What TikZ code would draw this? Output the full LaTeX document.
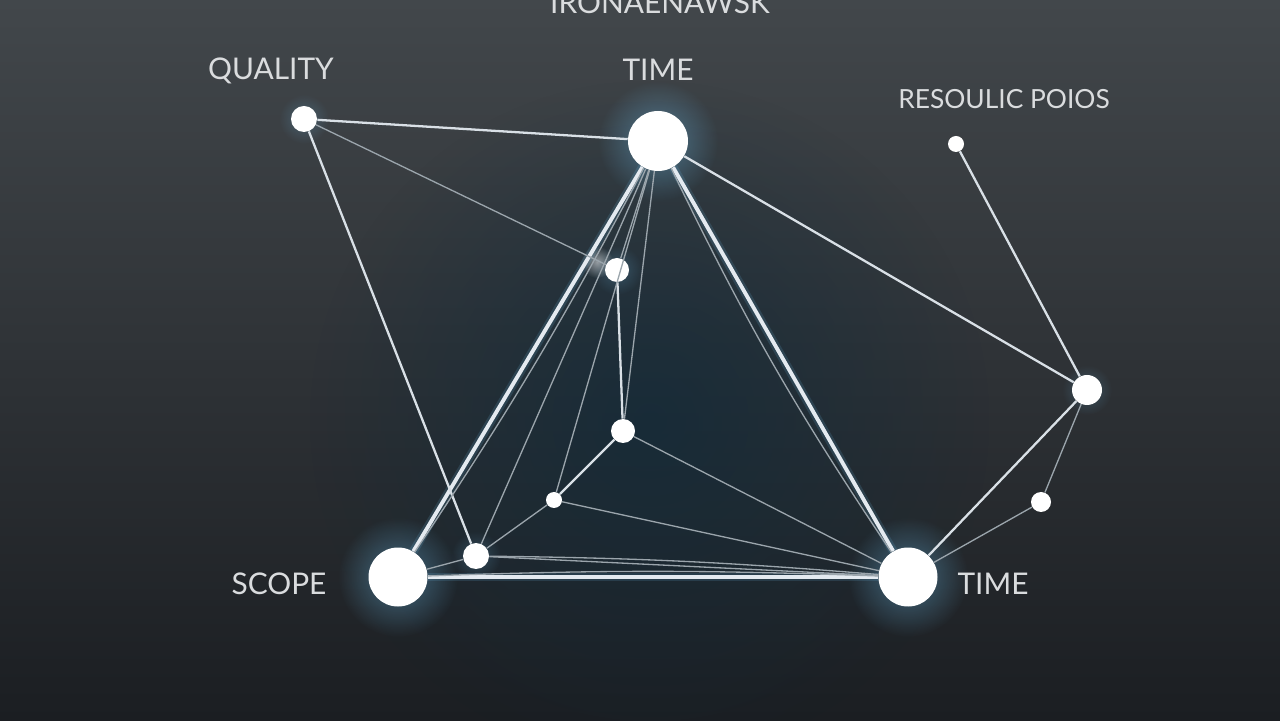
\documentclass[tikz,border=0pt]{standalone}
\usepackage{fontspec}
\setmainfont{Lato}
\usetikzlibrary{backgrounds,fadings}

\definecolor{bgtop}{RGB}{66,71,75}
\definecolor{bgbot}{RGB}{27,30,34}
\definecolor{bgblue}{RGB}{16,42,58}
\definecolor{glowc}{RGB}{110,190,235}
\definecolor{linec}{RGB}{228,234,240}
\definecolor{thinc}{RGB}{155,165,172}
\definecolor{textc}{RGB}{218,220,222}

\tikzfading[name=fadeout, inner color=transparent!0, outer color=transparent!100]

\tikzstyle{dot}=[shape=circle,fill=white,inner sep=0pt,minimum size=0.48cm]
\tikzstyle{bigdot}=[dot,minimum size=1.18cm]
\tikzstyle{lbl}=[text=textc,font=\fontsize{17}{20}\selectfont]
\tikzstyle{heavy}=[draw=linec,line width=2.2pt,preaction={draw=glowc,line width=5pt,opacity=0.15}]
\tikzstyle{medium}=[draw=linec!85!thinc,line width=1.3pt]
\tikzstyle{faint}=[draw=thinc,line width=0.75pt]

\begin{document}
\begin{tikzpicture}[x=2cm,y=2cm]
        \useasboundingbox (0,0) rectangle (12.8,7.2);
        % points
        \node[dot,minimum size=0.52cm] (q) at (3.04,6.01) {};
        \node[bigdot,minimum size=1.2cm] (t) at (6.58,5.79) {};
        \node[dot,minimum size=0.32cm] (r) at (9.56,5.76) {};
        \node[dot] (m1) at (6.17,4.50) {};
        \node[dot] (m2) at (6.23,2.89) {};
        \node[dot,minimum size=0.32cm] (m3) at (5.54,2.20) {};
        \node[dot,minimum size=0.52cm] (m4) at (4.76,1.64) {};
        \node[bigdot] (s) at (3.98,1.43) {};
        \node[bigdot] (b) at (9.08,1.43) {};
        \node[dot,minimum size=0.6cm] (r2) at (10.87,3.30) {};
        \node[dot,minimum size=0.4cm] (r3) at (10.41,2.18) {};
        % labels
        \node[lbl,anchor=base] (title) at (6.60,7.06) {IRONAENAWSK};
        \node[lbl] (lq) at (2.71,6.49) {QUALITY};
        \node[lbl] (lt) at (6.58,6.50) {TIME};
        \node[lbl,font=\fontsize{15}{18}\selectfont] (lr) at (10.04,6.21) {RESOULIC POIOS};
        \node[lbl] (ls) at (2.79,1.36) {SCOPE};
        \node[lbl] (lb) at (9.93,1.36) {TIME};
        % links
        \draw[heavy] (s) -- (t);
        \draw[heavy] (t) -- (b);
        \draw[heavy] (s) -- (b);
        \draw[medium] (q) -- (t);
        \draw[medium] (q) -- (m4);
        \draw[medium] (t) -- (r2);
        \draw[medium] (r) -- (r2);
        \draw[medium] (r2) -- (b);
        \draw[medium] (m1) -- (m2);
        \draw[medium] (m2) -- (m3);
        \draw[faint] (q) -- (m1);
        \draw[faint] (r2) -- (r3);
        \draw[faint] (r3) -- (b);
        \draw[faint] (m3) -- (m4);
        \draw[faint] (m3) -- (b);
        \draw[faint] (m2) -- (b);
        \draw[faint] (m4) -- (b);
        \draw[faint] (m4) to [bend left=2] (b);
        \draw[faint] (s) -- (m4);
        \draw[faint] (t) -- (m4);
        \draw[faint] (t) -- (m3);
        \draw[faint] (t) -- (m2);
        \draw[faint] (t) -- (m1);
        \draw[faint] (t) to [bend right=4] (b);
        \draw[faint] (s) to [bend right=3] (t);
        \draw[faint] (s) to [bend left=2] (b);
        % backdrop and glow
        \begin{pgfonlayer}{background}
            \shade[top color=bgtop,bottom color=bgbot] (0,0) rectangle (12.8,7.2);
            \fill[bgblue,path fading=fadeout,opacity=0.7] (6.5,3.0) circle (3.4);
            \foreach \n in {t,s,b}
                \fill[glowc,path fading=fadeout,opacity=0.45] (\n) circle (0.6);
            \foreach \n in {q,r2,m1,m4}
                \fill[glowc,path fading=fadeout,opacity=0.25] (\n) circle (0.25);
            \fill[white,path fading=fadeout,opacity=0.5] (5.97,4.58) circle (0.16);
        \end{pgfonlayer}
\end{tikzpicture}
\end{document}
